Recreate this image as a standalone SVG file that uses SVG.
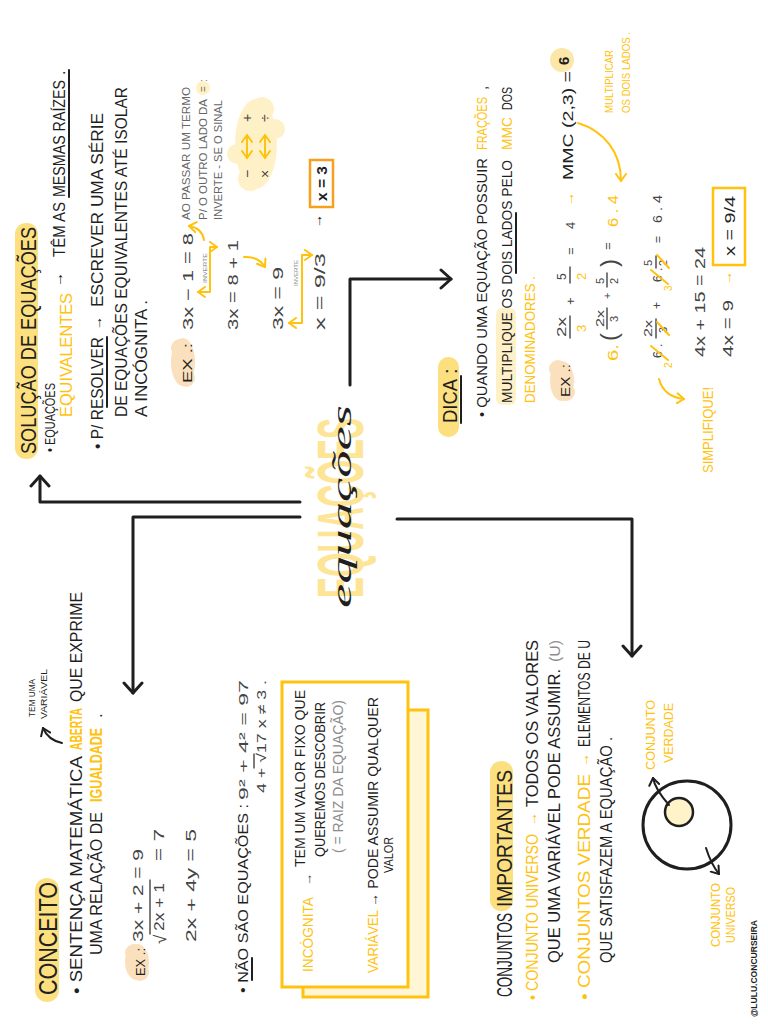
<svg xmlns="http://www.w3.org/2000/svg" width="768" height="1024" viewBox="0 0 768 1024">
<defs>
<style>
.t{font-family:"Liberation Sans","DejaVu Sans",sans-serif;fill:#1f1f1f}
.y{fill:#FFC20E}
.g{fill:#8c8c8c}
.m{fill:#444}
.hl{fill:#FCE07F}
.pale{fill:#FFF1C7}
.peach{fill:#FBE0BE}
.con{fill:none;stroke:#1f1f1f;stroke-width:3;stroke-linecap:round;stroke-linejoin:round}
.ya{fill:none;stroke:#FFC20E;stroke-width:2;stroke-linecap:round;stroke-linejoin:round}
.ka{fill:none;stroke:#1f1f1f;stroke-width:2;stroke-linecap:round;stroke-linejoin:round}
.ml{fill:none;stroke:#444;stroke-width:1.4;stroke-linecap:round}
.gr{fill:#666}
</style>
<marker id="ah" markerUnits="userSpaceOnUse" markerWidth="14" markerHeight="22" viewBox="0 0 14 22" refX="12" refY="11" orient="auto"><path d="M2,2 L12,11 L2,20" fill="none" stroke="#1f1f1f" stroke-width="3" stroke-linecap="round" stroke-linejoin="round"/></marker>
<marker id="ahs" markerUnits="userSpaceOnUse" markerWidth="10" markerHeight="12" viewBox="0 0 10 12" refX="8" refY="6" orient="auto"><path d="M1,1 L8,6 L1,11" fill="none" stroke="#1f1f1f" stroke-width="2" stroke-linecap="round" stroke-linejoin="round"/></marker>
<marker id="ay" markerUnits="userSpaceOnUse" markerWidth="10" markerHeight="12" viewBox="0 0 10 12" refX="8" refY="6" orient="auto-start-reverse"><path d="M1,1 L8,6 L1,11" fill="none" stroke="#FFC20E" stroke-width="2" stroke-linecap="round" stroke-linejoin="round"/></marker>
</defs>
<rect width="768" height="1024" fill="#ffffff"/>
<g transform="translate(0 1024) rotate(-90)">

<g id="connectors" class="con">
<path d="M522,300 V40 H548" marker-end="url(#ah)"/>
<path d="M507,300 V133 H331" marker-end="url(#ah)"/>
<path d="M505,397 V632 H368" marker-end="url(#ah)"/>
<path d="M639,350 H745 V451" marker-end="url(#ah)"/>
</g>

<g id="center">
<text x="426" y="363" font-size="64" font-weight="bold" fill="#FDE595" font-family="Liberation Sans, sans-serif" textLength="180" lengthAdjust="spacingAndGlyphs">EQUAÇÕES</text>
<text x="416" y="351" font-size="27" font-style="italic" fill="#1f1f1f" font-family="Liberation Serif, serif" textLength="203" lengthAdjust="spacingAndGlyphs">equações</text>
</g>

<g id="conceito">
<rect class="hl" x="22" y="35" width="124" height="24" rx="12"/>
<text class="t" x="29" y="57" font-size="25" textLength="113" lengthAdjust="spacingAndGlyphs">CONCEITO</text>
<text class="t" x="30" y="82" font-size="17" textLength="238" lengthAdjust="spacingAndGlyphs">• SENTENÇA MATEMÁTICA</text>
<text class="t y" x="274" y="82" font-size="17" font-weight="bold" textLength="42" lengthAdjust="spacingAndGlyphs">ABERTA</text>
<text class="t" x="322" y="82" font-size="17" textLength="110" lengthAdjust="spacingAndGlyphs">QUE EXPRIME</text>
<text class="t" x="69" y="102" font-size="17" textLength="143" lengthAdjust="spacingAndGlyphs">UMA RELAÇÃO DE</text>
<text class="t y" x="222" y="102" font-size="17" font-weight="bold" textLength="74" lengthAdjust="spacingAndGlyphs">IGUALDADE</text>
<text class="t" x="306" y="102" font-size="17">.</text>
<text class="t" x="307" y="35" font-size="9" textLength="38" lengthAdjust="spacingAndGlyphs">TEM UMA</text>
<text class="t" x="305" y="47" font-size="9" textLength="50" lengthAdjust="spacingAndGlyphs">VARIÁVEL</text>
<path class="ka" d="M281,62 Q284,48 296,43" marker-end="url(#ahs)"/>
<g class="peach"><ellipse cx="62" cy="137" rx="18" ry="12"/><circle cx="52" cy="140" r="9"/><circle cx="71" cy="134" r="9"/></g>
<text class="t" x="48" y="145" font-size="13" textLength="28" lengthAdjust="spacingAndGlyphs">EX .:</text>
<text class="t m" x="82" y="143" font-size="14" textLength="93" lengthAdjust="spacingAndGlyphs">3x + 2 = 9</text>
<text class="t m" x="80" y="166" font-size="17">√</text>
<path class="ml" d="M90,150 H144"/>
<text class="t m" x="93" y="164" font-size="14" textLength="48" lengthAdjust="spacingAndGlyphs">2x + 1</text>
<text class="t m" x="163" y="164" font-size="14" textLength="32" lengthAdjust="spacingAndGlyphs">= 7</text>
<text class="t m" x="82" y="196" font-size="14" textLength="113" lengthAdjust="spacingAndGlyphs">2x + 4y = 5</text>
<text class="t" x="31" y="248" font-size="15" textLength="189" lengthAdjust="spacingAndGlyphs">• NÃO SÃO EQUAÇÕES :</text>
<path class="ka" d="M44,252 H66"/>
<text class="t m" x="224" y="248" font-size="13" textLength="120" lengthAdjust="spacingAndGlyphs">9² + 4² = 97</text>
<text class="t m" x="231" y="266" font-size="13" textLength="113" lengthAdjust="spacingAndGlyphs">4 + √17 x ≠ 3 .</text>
<path class="ml" d="M256,254 H270"/>
</g>

<g id="incognita-variavel">
<rect x="27" y="303" width="287" height="125" fill="#FFF6D6" stroke="#FFC20E" stroke-width="3"/>
<rect x="37" y="282" width="305" height="126" fill="#ffffff" stroke="#FFC20E" stroke-width="3"/>
<text class="t y" x="52" y="313" font-size="14" textLength="75" lengthAdjust="spacingAndGlyphs">INCÓGNITA</text>
<text class="t" x="138" y="312" font-size="13">→</text>
<text class="t" x="157" y="305" font-size="14" textLength="177" lengthAdjust="spacingAndGlyphs">TEM UM VALOR FIXO QUE</text>
<text class="t" x="167" y="325" font-size="14" textLength="155" lengthAdjust="spacingAndGlyphs">QUEREMOS DESCOBRIR</text>
<text class="t g" x="171" y="343" font-size="14" textLength="153" lengthAdjust="spacingAndGlyphs">( = RAIZ DA EQUAÇÃO)</text>
<text class="t y" x="51" y="378" font-size="14" textLength="63" lengthAdjust="spacingAndGlyphs">VARIÁVEL</text>
<text class="t" x="117" y="378" font-size="14" textLength="210" lengthAdjust="spacingAndGlyphs">→ PODE ASSUMIR QUALQUER</text>
<text class="t" x="151" y="393" font-size="13" textLength="36" lengthAdjust="spacingAndGlyphs">VALOR</text>
</g>

<g id="conjuntos">
<rect class="hl" x="113" y="490" width="150" height="23" rx="11"/>
<text class="t" x="27" y="512" font-size="22" textLength="84" lengthAdjust="spacingAndGlyphs">CONJUNTOS</text>
<text class="t" x="117" y="512" font-size="22" textLength="137" lengthAdjust="spacingAndGlyphs">IMPORTANTES</text>
<text class="t y" x="24" y="538" font-size="16" textLength="166" lengthAdjust="spacingAndGlyphs">• CONJUNTO UNIVERSO</text>
<text class="t y" x="198" y="537" font-size="14">→</text>
<text class="t" x="217" y="538" font-size="16" textLength="167" lengthAdjust="spacingAndGlyphs">TODOS OS VALORES</text>
<text class="t" x="61" y="560" font-size="16" textLength="294" lengthAdjust="spacingAndGlyphs">QUE UMA VARIÁVEL PODE ASSUMIR.</text>
<text class="t g" x="362" y="560" font-size="15" textLength="22" lengthAdjust="spacingAndGlyphs">(U)</text>
<text class="t y" x="24" y="590" font-size="16" textLength="226" lengthAdjust="spacingAndGlyphs">• CONJUNTOS VERDADE</text>
<text class="t y" x="257" y="589" font-size="14">→</text>
<text class="t" x="277" y="590" font-size="16" textLength="107" lengthAdjust="spacingAndGlyphs">ELEMENTOS DE U</text>
<text class="t" x="61" y="612" font-size="16" textLength="226" lengthAdjust="spacingAndGlyphs">QUE SATISFAZEM A EQUAÇÃO .</text>
<circle cx="199" cy="687" r="44" fill="#ffffff" stroke="#1f1f1f" stroke-width="3"/>
<circle cx="212" cy="679" r="14" fill="#FFF3C9" stroke="#1f1f1f" stroke-width="2.5"/>
<path class="ka" d="M219,669 Q235,655 246,653" marker-end="url(#ahs)"/>
<path class="ka" d="M176,706 Q160,711 150,719" marker-end="url(#ahs)"/>
<text class="t y" x="254" y="655" font-size="13" textLength="70" lengthAdjust="spacingAndGlyphs">CONJUNTO</text>
<text class="t y" x="261" y="673" font-size="13" textLength="60" lengthAdjust="spacingAndGlyphs">VERDADE</text>
<text class="t y" x="77" y="720" font-size="13" textLength="64" lengthAdjust="spacingAndGlyphs">CONJUNTO</text>
<text class="t y" x="81" y="735" font-size="13" textLength="56" lengthAdjust="spacingAndGlyphs">UNIVERSO</text>
<text class="t" x="7" y="757" font-size="9" font-weight="bold" textLength="97" lengthAdjust="spacingAndGlyphs">@LULU.CONCURSEIRA</text>
</g>

<g id="solucao">
<rect class="hl" x="565" y="15" width="236" height="23" rx="11"/>
<text class="t" x="570" y="36" font-size="22" textLength="227" lengthAdjust="spacingAndGlyphs">SOLUÇÃO DE EQUAÇÕES</text>
<text class="t" x="572" y="55" font-size="15" textLength="69" lengthAdjust="spacingAndGlyphs">• EQUAÇÕES</text>
<text class="t y" x="607" y="72" font-size="16" textLength="124" lengthAdjust="spacingAndGlyphs">EQUIVALENTES</text>
<text class="t" x="737" y="63" font-size="15">→</text>
<text class="t" x="767" y="65" font-size="16" textLength="55" lengthAdjust="spacingAndGlyphs">TÊM AS</text>
<text class="t" x="827" y="65" font-size="16" textLength="117" lengthAdjust="spacingAndGlyphs">MESMAS RAÍZES</text>
<path class="ka" d="M827,69 H954"/>
<text class="t" x="949" y="65" font-size="16">.</text>
<text class="t" x="575" y="103" font-size="16" textLength="112" lengthAdjust="spacingAndGlyphs">• P/ RESOLVER</text>
<path class="ka" d="M617,107 H687"/>
<text class="t" x="694" y="102" font-size="14">→</text>
<text class="t" x="717" y="103" font-size="16" textLength="194" lengthAdjust="spacingAndGlyphs">ESCREVER UMA SÉRIE</text>
<text class="t" x="607" y="127" font-size="16" textLength="330" lengthAdjust="spacingAndGlyphs">DE EQUAÇÕES EQUIVALENTES ATÉ ISOLAR</text>
<text class="t" x="607" y="147" font-size="16" textLength="117" lengthAdjust="spacingAndGlyphs">A INCÓGNITA .</text>
<g class="peach"><ellipse cx="662" cy="183" rx="24" ry="12"/><circle cx="646" cy="186" r="9"/><circle cx="676" cy="180" r="9"/></g>
<text class="t" x="641" y="192" font-size="13" textLength="40" lengthAdjust="spacingAndGlyphs">EX .:</text>
<text class="t m" x="694" y="193" font-size="15" textLength="97" lengthAdjust="spacingAndGlyphs">3x − 1 = 8</text>
<path class="ya" d="M732,198 V210 H777 V217" marker-start="url(#ay)" marker-end="url(#ay)"/>
<text class="t g" x="741" y="207" font-size="5" textLength="30" lengthAdjust="spacingAndGlyphs">INVERTE</text>
<path class="ya" d="M784,204 Q796,202 798,189" marker-end="url(#ay)"/>
<text class="t gr" x="804" y="190" font-size="10" textLength="133" lengthAdjust="spacingAndGlyphs">AO PASSAR UM TERMO</text>
<text class="t gr" x="804" y="207" font-size="10" textLength="121" lengthAdjust="spacingAndGlyphs">P/ O OUTRO LADO DA</text>
<circle class="pale" cx="936" cy="203" r="7"/>
<text class="t gr" x="932" y="207" font-size="10">=</text>
<text class="t gr" x="942" y="207" font-size="10">:</text>
<text class="t gr" x="804" y="222" font-size="10" textLength="120" lengthAdjust="spacingAndGlyphs">INVERTE - SE O SINAL</text>
<g class="pale"><ellipse cx="880" cy="256" rx="45" ry="21"/><circle cx="845" cy="250" r="12"/><circle cx="915" cy="262" r="12"/><circle cx="870" cy="237" r="10"/><circle cx="895" cy="275" r="10"/></g>
<text class="t m" x="846" y="252" font-size="14">−</text>
<text class="t m" x="902" y="252" font-size="14">+</text>
<text class="t m" x="846" y="270" font-size="14">×</text>
<text class="t m" x="902" y="270" font-size="14">÷</text>
<path class="ya" d="M866,247 H889" marker-start="url(#ay)" marker-end="url(#ay)"/>
<path class="ya" d="M866,265 H889" marker-start="url(#ay)" marker-end="url(#ay)"/>
<text class="t m" x="694" y="238" font-size="15" textLength="90" lengthAdjust="spacingAndGlyphs">3x = 8 + 1</text>
<path class="ya" d="M767,244 Q768,258 757,265" marker-end="url(#ay)"/>
<text class="t m" x="694" y="283" font-size="15" textLength="63" lengthAdjust="spacingAndGlyphs">3x = 9</text>
<path class="ya" d="M701,289 V302 H769 V312" marker-start="url(#ay)" marker-end="url(#ay)"/>
<text class="t g" x="738" y="298" font-size="5" textLength="26" lengthAdjust="spacingAndGlyphs">INVERTE</text>
<text class="t m" x="694" y="325" font-size="15" textLength="77" lengthAdjust="spacingAndGlyphs">x = 9/3</text>
<text class="t" x="796" y="322" font-size="14">→</text>
<rect x="817" y="310" width="47" height="23" fill="none" stroke="#F7A01E" stroke-width="2.5"/>
<text class="t" x="823" y="327" font-size="14" font-weight="bold" textLength="35" lengthAdjust="spacingAndGlyphs">x = 3</text>
</g>

<g id="dica">
<rect class="hl" x="587" y="438" width="80" height="21" rx="10"/>
<text class="t" x="601" y="457" font-size="20" textLength="44" lengthAdjust="spacingAndGlyphs">DICA</text>
<text class="t" x="650" y="457" font-size="20">:</text>
<path class="ka" d="M601,461 H648"/>
<text class="t" x="607" y="487" font-size="15" textLength="259" lengthAdjust="spacingAndGlyphs">• QUANDO UMA EQUAÇÃO POSSUIR</text>
<text class="t y" x="874" y="487" font-size="15" textLength="53" lengthAdjust="spacingAndGlyphs">FRAÇÕES</text>
<text class="t" x="934" y="487" font-size="15">,</text>
<rect class="pale" x="619" y="496" width="97" height="20" rx="6"/>
<text class="t" x="621" y="512" font-size="15" textLength="243" lengthAdjust="spacingAndGlyphs">MULTIPLIQUE OS DOIS LADOS PELO</text>
<path class="ka" d="M751,516 H811"/>
<text class="t y" x="874" y="512" font-size="15" textLength="33" lengthAdjust="spacingAndGlyphs">MMC</text>
<text class="t" x="914" y="512" font-size="15" textLength="23" lengthAdjust="spacingAndGlyphs">DOS</text>
<text class="t y" x="621" y="535" font-size="15" textLength="127" lengthAdjust="spacingAndGlyphs">DENOMINADORES .</text>
<g class="peach"><ellipse cx="643" cy="562" rx="20" ry="12"/><circle cx="632" cy="566" r="9"/><circle cx="655" cy="558" r="9"/></g>
<text class="t" x="627" y="570" font-size="13" textLength="33" lengthAdjust="spacingAndGlyphs">EX .:</text>
<text class="t m" x="687" y="566" font-size="12" textLength="20" lengthAdjust="spacingAndGlyphs">2x</text>
<path class="ml" d="M686,570 H708"/>
<text class="t y" x="692" y="586" font-size="13">3</text>
<text class="t m" x="719" y="575" font-size="13">+</text>
<text class="t m" x="744" y="566" font-size="12">5</text>
<path class="ml" d="M741,570 H757"/>
<text class="t y" x="744" y="586" font-size="13">2</text>
<text class="t m" x="769" y="575" font-size="13">=</text>
<text class="t m" x="795" y="575" font-size="13">4</text>
<text class="t y" x="818" y="574" font-size="14">→</text>
<text class="t" x="844" y="573" font-size="15" textLength="109" lengthAdjust="spacingAndGlyphs">MMC (2,3) =</text>
<circle cx="964" cy="562" r="12" fill="#FCE7A8"/>
<text class="t" x="959" y="569" font-size="15" font-weight="bold">6</text>
<path class="ya" d="M901,578 C893,604 872,621 843,621" marker-end="url(#ay)"/>
<text class="t y" x="911" y="613" font-size="11" textLength="63" lengthAdjust="spacingAndGlyphs">MULTIPLICAR</text>
<text class="t y" x="911" y="630" font-size="11" textLength="81" lengthAdjust="spacingAndGlyphs">OS DOIS LADOS .</text>
<text class="t y" x="663" y="618" font-size="14" textLength="17" lengthAdjust="spacingAndGlyphs">6.</text>
<text class="t m" x="683" y="617" font-size="24">(</text>
<text class="t m" x="697" y="604" font-size="11" textLength="17" lengthAdjust="spacingAndGlyphs">2x</text>
<path class="ml" d="M695,607 H716"/>
<text class="t m" x="702" y="618" font-size="11">3</text>
<text class="t m" x="725" y="611" font-size="11">+</text>
<text class="t m" x="740" y="604" font-size="11">5</text>
<path class="ml" d="M737,607 H751"/>
<text class="t m" x="740" y="618" font-size="11">2</text>
<text class="t m" x="757" y="617" font-size="24">)</text>
<text class="t m" x="774" y="612" font-size="13">=</text>
<text class="t y" x="797" y="618" font-size="14" textLength="32" lengthAdjust="spacingAndGlyphs">6 . 4</text>
<text class="t y" x="656" y="672" font-size="10">2</text>
<text class="t m" x="666" y="662" font-size="12">6</text>
<path class="ya" d="M664,668 L678,651"/>
<text class="t m" x="677" y="662" font-size="12">.</text>
<text class="t m" x="687" y="652" font-size="11" textLength="17" lengthAdjust="spacingAndGlyphs">2x</text>
<path class="ml" d="M686,656 H705"/>
<text class="t m" x="691" y="667" font-size="11">3</text>
<path class="ya" d="M689,669 L702,657"/>
<text class="t m" x="715" y="661" font-size="12">+</text>
<text class="t y" x="733" y="672" font-size="10">3</text>
<text class="t m" x="742" y="662" font-size="12">6</text>
<path class="ya" d="M740,668 L754,651"/>
<text class="t m" x="753" y="662" font-size="12">.</text>
<text class="t m" x="758" y="652" font-size="11">5</text>
<path class="ml" d="M756,656 H768"/>
<text class="t m" x="758" y="667" font-size="11">2</text>
<path class="ya" d="M756,669 L769,657"/>
<text class="t m" x="781" y="662" font-size="12">=</text>
<text class="t m" x="801" y="662" font-size="12" textLength="28" lengthAdjust="spacingAndGlyphs">6 . 4</text>
<path class="ya" d="M645,659 Q627,664 625,684" marker-end="url(#ay)"/>
<text class="t y" x="551" y="713" font-size="14" textLength="86" lengthAdjust="spacingAndGlyphs">SIMPLIFIQUE!</text>
<text class="t m" x="667" y="705" font-size="14" textLength="110" lengthAdjust="spacingAndGlyphs">4x + 15 = 24</text>
<text class="t m" x="667" y="733" font-size="14" textLength="57" lengthAdjust="spacingAndGlyphs">4x = 9</text>
<text class="t y" x="739" y="732" font-size="14">→</text>
<rect x="759" y="713" width="77" height="32" fill="none" stroke="#FFC20E" stroke-width="2.5"/>
<text class="t" x="768" y="735" font-size="15" textLength="60" lengthAdjust="spacingAndGlyphs">x = 9/4</text>
</g>

</g>
</svg>
